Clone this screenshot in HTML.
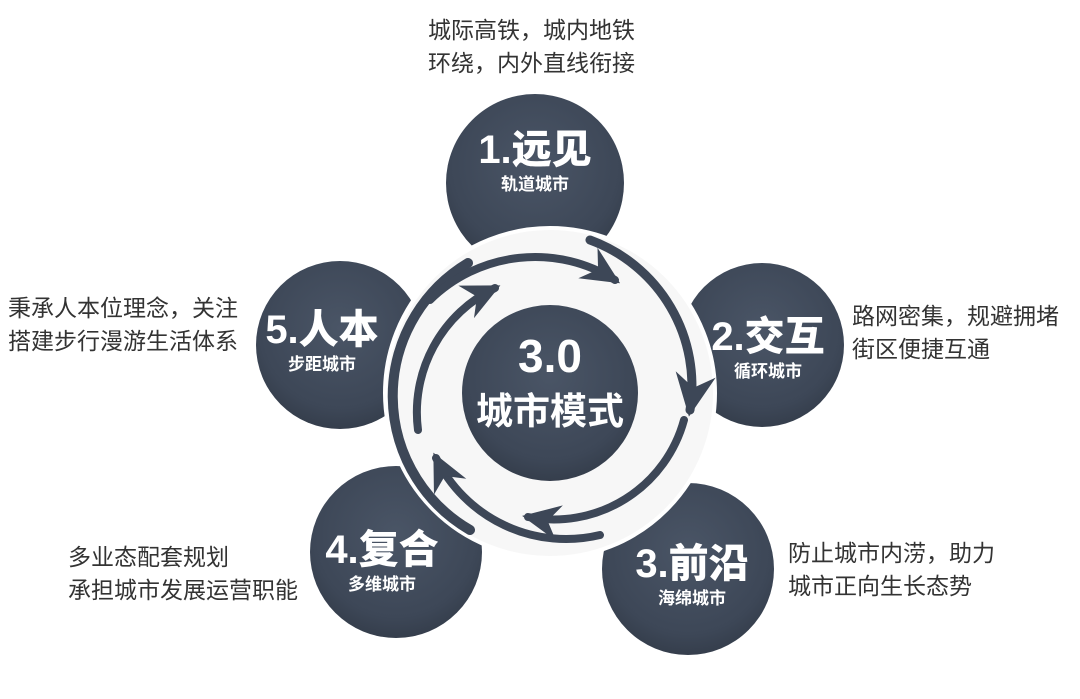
<!DOCTYPE html>
<html><head><meta charset="utf-8"><style>
body{margin:0;width:1080px;height:699px;background:#fff;overflow:hidden;position:relative;font-family:"Liberation Sans","Noto Sans CJK SC",sans-serif}
.t{position:absolute;color:#333;font-size:23px;line-height:33px;white-space:nowrap}
.c{position:absolute;color:#fff;text-align:center;white-space:nowrap;font-weight:bold}
.c b{display:block;font-size:40px;line-height:44px}
.c i{display:block;font-style:normal;font-size:17px;line-height:26px}
svg{position:absolute;left:0;top:0}
</style></head><body>
<svg width="1080" height="699" viewBox="0 0 1080 699">
<defs>
<radialGradient id="g" cx="50%" cy="40%" r="60%"><stop offset="0" stop-color="#4a5566"/><stop offset="0.8" stop-color="#3d4757"/><stop offset="1" stop-color="#353e4c"/></radialGradient>
<marker id="a" viewBox="0 0 20 20" refX="16" refY="10" markerWidth="5" markerHeight="5" orient="auto" markerUnits="strokeWidth"><path d="M0,1 L19,10 L0,19 L6,10 Z" fill="#3d4757"/></marker>
</defs>
<g fill="url(#g)">
<circle cx="535" cy="183" r="89"/>
<circle cx="762" cy="345" r="82"/>
<circle cx="688" cy="569" r="86"/>
<circle cx="396" cy="552" r="86"/>
<circle cx="340" cy="345" r="84"/>
</g>
<circle cx="550" cy="393" r="165" fill="#f7f7f7" stroke="#fff" stroke-width="4"/>
<circle cx="550" cy="393" r="88" fill="url(#g)"/>
<g fill="none" stroke="#3d4757" stroke-linecap="round">
<path d="M468,263 A155,155 0 0 0 470,530" stroke-width="10"/>
<path d="M590,240 A155,155 0 0 1 690,410" stroke-width="9" marker-end="url(#a)"/>
<path d="M430,300 A150,150 0 0 1 615,280" stroke-width="8" marker-end="url(#a)"/>
<path d="M684,420 A135,135 0 0 1 528,517" stroke-width="8" marker-end="url(#a)"/>
<path d="M600,535 A145,145 0 0 1 436,458" stroke-width="8" marker-end="url(#a)"/>
<path d="M418,430 A138,138 0 0 1 495,288" stroke-width="8" marker-end="url(#a)"/>
</g>
</svg>
<div class="t" style="left:428px;top:14px">城际高铁，城内地铁<br>环绕，内外直线衔接</div>
<div class="t" style="left:852px;top:300px">路网密集，规避拥堵<br>街区便捷互通</div>
<div class="t" style="left:788px;top:537px">防止城市内涝，助力<br>城市正向生长态势</div>
<div class="t" style="left:68px;top:541px">多业态配套规划<br>承担城市发展运营职能</div>
<div class="t" style="left:8px;top:292px">秉承人本位理念，关注<br>搭建步行漫游生活体系</div>
<div class="c" style="left:435px;top:128px;width:200px"><b>1.远见</b><i>轨道城市</i></div>
<div class="c" style="left:668px;top:315px;width:200px"><b>2.交互</b><i>循环城市</i></div>
<div class="c" style="left:592px;top:542px;width:200px"><b>3.前沿</b><i>海绵城市</i></div>
<div class="c" style="left:282px;top:528px;width:200px"><b>4.复合</b><i>多维城市</i></div>
<div class="c" style="left:222px;top:308px;width:200px"><b>5.人本</b><i>步距城市</i></div>
<div class="c" style="left:450px;top:330px;width:200px;font-size:46px;line-height:52px">3.0<br><span style="font-size:37px">城市模式</span></div>
</body></html>
